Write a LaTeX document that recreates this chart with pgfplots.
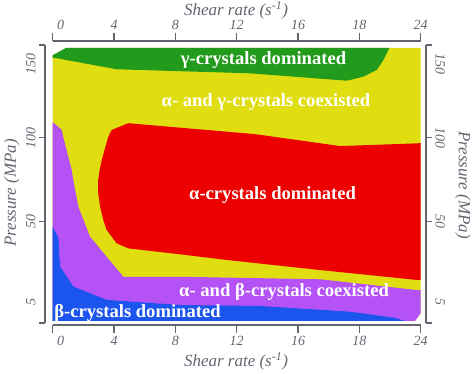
\documentclass[border=0pt]{standalone}
\usepackage{pgfplots}
\pgfplotsset{compat=1.18}
\usepackage{fontspec}
\setmainfont{Liberation Serif}
\definecolor{cgreen}{RGB}{34,154,28}
\definecolor{cyellow}{RGB}{224,222,16}
\definecolor{cred}{RGB}{236,0,0}
\definecolor{cpurple}{RGB}{180,82,246}
\definecolor{cblue}{RGB}{28,84,238}
\definecolor{caxis}{RGB}{100,100,110}
\definecolor{ctext}{RGB}{100,100,112}
\tikzset{rlab/.style={text=white, font=\fontsize{18.6}{18.6}\selectfont\bfseries, inner sep=0pt}}
\pgfplotsset{
 common/.style={scale only axis, clip=false, anchor=south west,
   /pgf/number format/assume math mode=true,
   axis line style={caxis, line width=1.3pt},
   tick style={caxis, line width=1.3pt},
   tick align=outside,
   tick label style={ctext, font=\fontsize{14}{14}\selectfont\itshape},
   label style={ctext, font=\fontsize{17}{17}\selectfont\itshape},
   minor tick num=0,
 },
 xax/.style={common, at={(52.7pt,49pt)}, width=368pt, height=284pt,
   xmin=0,xmax=24, ymin=-11.61, ymax=157.44,
   axis y line=none, major tick length=8pt,
   xtick={0,4,8,12,16,20,24},
   xticklabels={\hspace{16pt}0,4,8,12,16,18,24\hspace{26pt}},
 },
 yax/.style={common, at={(45pt,51pt)}, width=381pt, height=278pt,
   xmin=0,xmax=1, ymin=-10.4, ymax=155.1,
   axis x line=none, major tick length=6pt,
   ytick={-10.4,50,100,155.1}, yticklabels={{},50,100,{}},
   extra y ticks={2,144}, extra y tick labels={5,150},
   extra y tick style={major tick style={draw=none}},
 },
}
\begin{document}
\begin{tikzpicture}
\useasboundingbox (0,0) rectangle (474pt,374pt);
% data + bottom axis
\begin{axis}[xax, axis x line*=bottom,
  xlabel={Shear rate (s\textsuperscript{-1})},
  xlabel style={at={(axis description cs:0.498,-0.129)}, anchor=center}]
\addplot[fill=cyellow, draw=none] coordinates {(0,148.5) (0.87,153.3) (24,153.3) (24,-4.5) (23.63,-9.2) (0,-9.2)} -- cycle;
\addplot[fill=cgreen, draw=none] coordinates {(0,149) (0.87,153.3) (21.96,153.3) (21.9,152.1) (21.57,146.1) (21.13,140.2) (20.26,136.2) (19.18,133.8) (12.87,138.2) (4.17,140.6) (0,147.6)} -- cycle;
\addplot[fill=cpurple, draw=none] coordinates {(0,109.2) (0.59,104.5) (0.69,100.3) (1.02,88.4) (1.24,80.7) (1.34,74.7) (1.67,58.8) (2.43,41.0) (3.52,29.0) (4.61,17.1) (8.3,17.1) (17.44,15.6) (23.75,9.2) (24,9.2) (24,-4.5) (23.63,-9.2) (0,-9.2)} -- cycle;
\addplot[fill=cblue, draw=none] coordinates {(0,46.9) (0.37,40.2) (0.48,23.1) (1.35,11.2) (3.54,3.3) (8.3,0.3) (13.52,-0.3) (19.39,-3.7) (22.33,-7.4) (22.98,-9.2) (0,-9.2)} -- cycle;
\addplot[fill=cred, draw=none] coordinates {(4.93,108.5) (13.2,102) (18.74,94.9) (23.75,96.5) (24,96.7) (24,15.2) (23.75,15.2) (17.44,21.1) (14.39,24.1) (11.35,27.1) (8.0,30.8) (4.93,34.0) (4.17,37.0) (3.52,44.9) (3.30,50.9) (3.09,58.8) (2.97,66.8) (2.97,74.7) (3.05,80.0) (3.20,86.6) (3.41,93.6) (3.63,100.5) (3.85,104.5)} -- cycle;
\node[rlab] at (axis cs:13.75,146.1) {γ-crystals dominated};
\node[rlab] at (axis cs:13.91,121.3) {α- and γ-crystals coexisted};
\node[rlab] at (axis cs:14.34,65.8) {α-crystals dominated};
\node[rlab] at (axis cs:15.09,8.2) {α- and β-crystals coexisted};
\node[rlab] at (axis cs:5.53,-4.3) {β-crystals dominated};
\end{axis}
% top axis
\begin{axis}[xax, axis x line*=top,
  xlabel={Shear rate (s\textsuperscript{-1})},
  xlabel style={at={(axis description cs:0.498,1.109)}, anchor=center}]
\end{axis}
% left axis
\begin{axis}[yax, axis y line*=left,
  yticklabel style={rotate=90, anchor=south},
  ylabel={Pressure (MPa)},
  ylabel style={at={(axis description cs:-0.0874,0.468)}, anchor=center, rotate=0}]
\end{axis}
% right axis
\begin{axis}[yax, axis y line*=right,
  yticklabel style={rotate=-90, anchor=south},
  ylabel={Pressure (MPa)},
  ylabel style={at={(axis description cs:1.097,0.496)}, anchor=center, rotate=180}]
\end{axis}
\end{tikzpicture}
\end{document}
